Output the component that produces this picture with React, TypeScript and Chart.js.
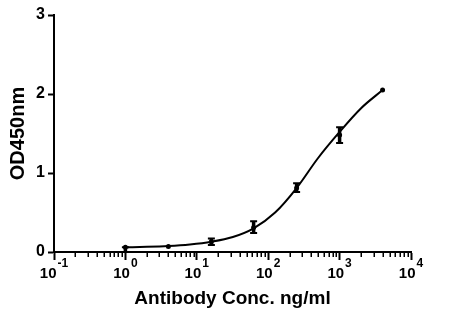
import React, { useEffect, useRef } from 'react';
import { Chart, registerables } from 'chart.js';

Chart.register(...registerables);

// Measured points (concentration ng/ml -> OD450)
const concentrations = [1, 4, 16, 62.5, 250, 1000, 4000];
const odMean = [0.06, 0.07, 0.13, 0.31, 0.81, 1.48, 2.05];
const odLow = [0.0, 0.07, 0.09, 0.24, 0.76, 1.38, 2.05];
const odHigh = [0.06, 0.07, 0.17, 0.39, 0.87, 1.58, 2.05];

// Fitted curve
const fitConc = [1, 2, 4, 8, 16, 32, 62.5, 125, 250, 500, 1000, 2000, 4000];
const fitOD = [0.06, 0.065, 0.075, 0.095, 0.13, 0.19, 0.3, 0.5, 0.81, 1.19, 1.52, 1.82, 2.05];

const xMajorTicks = [0.1, 1, 10, 100, 1000, 10000];
const xExponents = ['-1', '0', '1', '2', '3', '4'];
const yTicks = [0, 1, 2, 3];

const FONT = "'Liberation Sans', Arial, sans-serif";

const errorBarPlugin = {
  id: 'errorBars',
  afterDatasetsDraw(chart: any) {
    const ctx = chart.ctx;
    const xs = chart.scales.x;
    const ys = chart.scales.y;
    ctx.save();
    ctx.strokeStyle = '#000';
    for (let i = 0; i < concentrations.length; i++) {
      if (odHigh[i] - odLow[i] < 0.005) continue;
      const x = xs.getPixelForValue(concentrations[i]);
      const y1 = ys.getPixelForValue(odLow[i]);
      const y2 = ys.getPixelForValue(odHigh[i]);
      ctx.lineWidth = 3.5;
      ctx.beginPath();
      ctx.moveTo(x, y1);
      ctx.lineTo(x, y2);
      ctx.stroke();
      ctx.lineWidth = 2;
      ctx.beginPath();
      ctx.moveTo(x - 3.5, y1);
      ctx.lineTo(x + 3.5, y1);
      ctx.moveTo(x - 3.5, y2);
      ctx.lineTo(x + 3.5, y2);
      ctx.stroke();
    }
    ctx.restore();
  },
};

const axisDecorPlugin = {
  id: 'axisDecor',
  afterDraw(chart: any) {
    const ctx = chart.ctx;
    const xs = chart.scales.x;
    const bottom = chart.chartArea.bottom;
    ctx.save();
    // minor ticks
    ctx.strokeStyle = '#000';
    ctx.lineWidth = 1.5;
    for (let d = 0; d < xMajorTicks.length - 1; d++) {
      for (let m = 2; m <= 9; m++) {
        const x = Math.round(xs.getPixelForValue(xMajorTicks[d] * m)) + 0.25;
        ctx.beginPath();
        ctx.moveTo(x, bottom);
        ctx.lineTo(x, bottom + 5);
        ctx.stroke();
      }
    }
    // tick labels 10^n
    ctx.fillStyle = '#000';
    ctx.textBaseline = 'alphabetic';
    ctx.textAlign = 'left';
    for (let i = 0; i < xMajorTicks.length; i++) {
      const x = xs.getPixelForValue(xMajorTicks[i]);
      ctx.font = `bold 15px ${FONT}`;
      const wBase = ctx.measureText('10').width;
      ctx.font = `bold 12px ${FONT}`;
      const wExp = ctx.measureText(xExponents[i]).width;
      const start = x - (wBase + wExp + 1) / 2;
      ctx.font = `bold 15px ${FONT}`;
      ctx.fillText('10', start, bottom + 26);
      ctx.font = `bold 12px ${FONT}`;
      ctx.fillText(xExponents[i], start + wBase + 1, bottom + 15);
    }
    ctx.restore();
  },
};

export default function App() {
  const ref = useRef<HTMLCanvasElement | null>(null);
  useEffect(() => {
    document.body.style.margin = '0';
    const canvas = ref.current!;
    const chart = new Chart(canvas, {
      type: 'line',
      data: {
        datasets: [
          {
            label: 'fit',
            data: fitConc.map((c, i) => ({ x: c, y: fitOD[i] })),
            borderColor: '#000',
            borderWidth: 2,
            pointRadius: 0,
            cubicInterpolationMode: 'monotone',
            fill: false,
          },
          {
            label: 'points',
            data: concentrations.map((c, i) => ({ x: c, y: odMean[i] })),
            showLine: false,
            pointRadius: 2.5,
            pointBackgroundColor: '#000',
            pointBorderColor: '#000',
            pointBorderWidth: 0,
          },
        ],
      },
      options: {
        responsive: false,
        animation: false,
        layout: { padding: { left: 0, top: 15, right: 45, bottom: 0 } },
        plugins: { legend: { display: false }, tooltip: { enabled: false } },
        scales: {
          x: {
            type: 'logarithmic',
            min: 0.1,
            max: 10000,
            afterBuildTicks: (scale: any) => {
              scale.ticks = xMajorTicks.map((v) => ({ value: v, major: true }));
            },
            afterFit: (scale: any) => {
              scale.height = 72;
            },
            ticks: { display: false },
            grid: {
              drawOnChartArea: false,
              drawTicks: true,
              tickLength: 8,
              tickWidth: 2,
              tickColor: '#000',
              color: '#000',
            },
            border: { display: true, color: '#000', width: 2 },
            title: {
              display: true,
              text: 'Antibody Conc. ng/ml',
              color: '#000',
              font: { family: FONT, size: 19, weight: 'bold' },
              padding: { top: 0, bottom: 14 },
            },
          },
          y: {
            type: 'linear',
            min: 0,
            max: 3,
            afterBuildTicks: (scale: any) => {
              scale.ticks = yTicks.map((v) => ({ value: v }));
            },
            afterFit: (scale: any) => {
              scale.width = 54;
            },
            ticks: {
              color: '#000',
              padding: 3,
              font: { family: FONT, size: 16, weight: 'bold' },
            },
            grid: {
              drawOnChartArea: false,
              drawTicks: true,
              tickLength: 6,
              tickWidth: 2,
              tickColor: '#000',
              color: '#000',
            },
            border: { display: true, color: '#000', width: 2 },
            title: {
              display: true,
              text: 'OD450nm',
              color: '#000',
              font: { family: FONT, size: 20, weight: 'bold' },
              padding: { top: 6, bottom: 0 },
            },
          },
        },
      },
      plugins: [errorBarPlugin, axisDecorPlugin],
    } as any);
    return () => chart.destroy();
  }, []);
  return (
    <div style={{ position: 'fixed', left: 0, top: 0, width: 456, height: 324, background: '#fff' }}>
      <canvas ref={ref} width={456} height={324} style={{ display: 'block', width: 456, height: 324 }} />
    </div>
  );
}
